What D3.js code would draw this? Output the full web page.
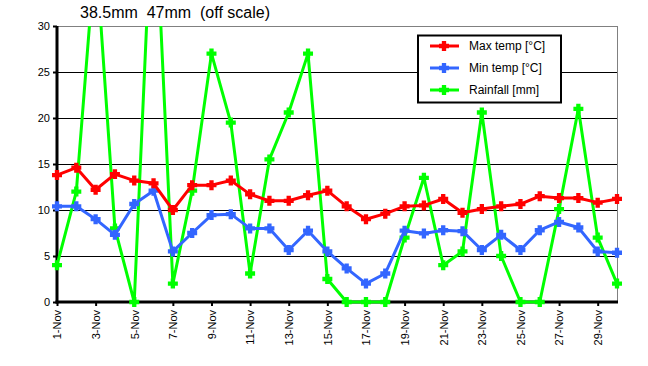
<!DOCTYPE html>
<html><head><meta charset="utf-8">
<script src="https://cdn.jsdelivr.net/npm/d3@7"></script>
<style>body{margin:0;background:#fff}svg{display:block}text{font-family:"Liberation Sans",Arial,sans-serif}</style>
</head><body><svg id="c" width="648" height="366"></svg>
<script>
const days = d3.range(1,31).map(d=>d+"-Nov");
const maxTemp = [13.8,14.6,12.2,13.9,13.2,12.9,10.0,12.7,12.7,13.2,11.7,11.0,11.0,11.6,12.1,10.4,9.0,9.6,10.4,10.5,11.2,9.7,10.1,10.4,10.65,11.5,11.3,11.3,10.8,11.2];
const minTemp = [10.4,10.4,9.0,7.3,10.65,12.1,5.5,7.5,9.45,9.55,8.0,8.0,5.65,7.75,5.5,3.65,2.0,3.1,7.75,7.45,7.8,7.7,5.65,7.3,5.65,7.8,8.7,8.1,5.5,5.35];
const rainfall = [4.0,12.0,38.5,8.0,0,47,2.0,12.1,27.0,19.5,3.1,15.5,20.6,27.0,2.5,0,0,0,7.0,13.5,4.0,5.5,20.6,5.0,0,0,10.1,21.0,7.0,2.0];
const yTicks = [0,5,10,15,20,25,30];
const series = [
  {name:"Max temp [°C]", values:maxTemp, color:"#ff0000"},
  {name:"Min temp [°C]", values:minTemp, color:"#3366ff"},
  {name:"Rainfall [mm]", values:rainfall, color:"#00ff00"}
];
const svg = d3.select("#c");
const L=57,R=617,T=26,B=302;
const x = d3.scalePoint().domain(days).range([L,R]);
const y = d3.scaleLinear().domain([0,30]).range([B,T]);
// gridlines
svg.append("g").selectAll("line").data(yTicks.filter(v=>v>0&&v<30)).join("line")
  .attr("x1",L).attr("x2",R).attr("y1",d=>Math.round(y(d))+0.5).attr("y2",d=>Math.round(y(d))+0.5)
  .attr("stroke","#000").attr("stroke-width",1).attr("shape-rendering","crispEdges");
// plot border top/right gray
svg.append("path").attr("d",`M${L},${T+0.5}H${R+0.5}V${B}`).attr("fill","none").attr("stroke","#808080").attr("stroke-width",1).attr("shape-rendering","crispEdges");
// y axis
const ya = svg.append("g").attr("transform",`translate(${L},0)`).call(d3.axisLeft(y).tickValues(yTicks).tickSize(4).tickPadding(3));
ya.select(".domain").remove();
ya.selectAll("line").attr("stroke","#000").attr("stroke-width",2);
ya.selectAll("text").attr("font-size",11).attr("fill","#000");
// x axis
const xa = svg.append("g").attr("transform",`translate(0,${B})`).call(d3.axisBottom(x).tickValues(days.filter((d,i)=>i%2===0)).tickSize(4));
xa.select(".domain").remove();
xa.selectAll("line").attr("stroke","#000").attr("stroke-width",2);
xa.selectAll("text").attr("font-size",11).attr("fill","#000")
  .attr("transform","rotate(-90)").attr("text-anchor","end").attr("x",-8).attr("y",0).attr("dy","0.35em");
// axis lines
svg.append("line").attr("x1",L).attr("x2",L).attr("y1",T).attr("y2",B+1.5).attr("stroke","#000").attr("stroke-width",3);
svg.append("line").attr("x1",L-1.5).attr("x2",R+1).attr("y1",B).attr("y2",B).attr("stroke","#000").attr("stroke-width",3);
// clip
svg.append("clipPath").attr("id","clip").append("rect").attr("x",L-10).attr("y",T).attr("width",R-L+20).attr("height",B-T+10);
const line = d3.line().x((d,i)=>x(days[i])).y(d=>y(d));
const g = svg.append("g").attr("clip-path","url(#clip)");
const sym = d3.symbol().type(d3.symbolCross).size(40);
[2,1,0].forEach(k=>{
  const s = series[k];
  g.append("path").attr("d",line(s.values)).attr("fill","none").attr("stroke",s.color).attr("stroke-width",3).attr("stroke-linejoin","round");
  g.append("g").selectAll("path").data(s.values).join("path")
    .attr("transform",(d,i)=>`translate(${x(days[i])},${y(d)})`).attr("d",sym).attr("fill",s.color)
    .attr("stroke",s.color).attr("stroke-width",1.5);
});
// annotation
svg.append("text").attr("x",80).attr("y",18).attr("font-size",16).attr("fill","#000").style("white-space","pre")
  .text("38.5mm  47mm  (off scale)");
// legend
const lg = svg.append("g");
lg.append("rect").attr("x",418).attr("y",35.5).attr("width",143).attr("height",67).attr("fill","#fff").attr("stroke","#000").attr("stroke-width",2);
series.forEach((s,i)=>{
  const yy = 46+i*22;
  lg.append("line").attr("x1",430).attr("x2",459).attr("y1",yy).attr("y2",yy).attr("stroke",s.color).attr("stroke-width",3);
  lg.append("path").attr("transform",`translate(444,${yy})`).attr("d",sym).attr("fill",s.color).attr("stroke",s.color).attr("stroke-width",1.5);
  lg.append("text").attr("x",469).attr("y",yy).attr("dy","0.35em").attr("font-size",12).attr("fill","#000").text(s.name);
});
</script></body></html>
